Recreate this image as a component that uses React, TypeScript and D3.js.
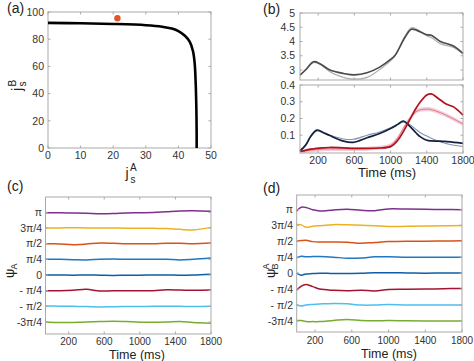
import React from "react";
import * as d3 from "d3";

const FONT = "'Liberation Sans', Arial, Helvetica, sans-serif";
const PI = Math.PI;
const AXIS = "#a9a9a9";
const TXT = "#333";

// ---- panel (a): frontier j_s^A vs j_s^B
const frontierA = [0, 10, 20, 30, 35, 38, 40, 42, 43.5, 44.5, 45, 45.3, 45.5, 45.6, 45.6];
const frontierB = [92, 91.7, 91.2, 90.3, 89.2, 87.8, 86, 82.5, 78, 71, 62, 48, 30, 10, 0];
const dotA = 21.3;
const dotB = 95.4;
const aTicksX = [0, 10, 20, 30, 40, 50];
const aTicksY = [0, 20, 40, 60, 80, 100];

// ---- panel (b) top
const bTopTimes = [0, 60, 150, 220, 330, 480, 600, 740, 880, 1000, 1050, 1160, 1230, 1290, 1400, 1450, 1550, 1690, 1800];
const bTopDark = [2.82, 3.0, 3.29, 3.22, 3.0, 2.88, 2.83, 2.9, 3.1, 3.37, 3.52, 4.15, 4.43, 4.39, 4.24, 4.22, 4.0, 3.85, 3.58];
const bTopLight = [2.82, 2.99, 3.26, 3.2, 2.94, 2.74, 2.68, 2.74, 3.02, 3.32, 3.49, 4.2, 4.48, 4.43, 4.2, 4.14, 3.92, 3.8, 3.56];
const bTopTicks = [3, 3.5, 4, 4.5, 5];

// ---- panel (b) bottom
const bBotTimes = [0, 60, 120, 185, 250, 330, 480, 590, 740, 880, 1000, 1080, 1140, 1210, 1280, 1330, 1400, 1450, 1550, 1620, 1700, 1800];
const bNavy = [0.006, 0.04, 0.095, 0.131, 0.118, 0.098, 0.065, 0.058, 0.085, 0.11, 0.14, 0.165, 0.185, 0.155, 0.115, 0.09, 0.07, 0.066, 0.065, 0.062, 0.058, 0.052];
const bNavyLight = [0.006, 0.035, 0.09, 0.126, 0.115, 0.1, 0.078, 0.076, 0.1, 0.12, 0.145, 0.165, 0.178, 0.165, 0.135, 0.115, 0.095, 0.082, 0.06, 0.05, 0.04, 0.033];
const bRed = [0.003, 0.01, 0.017, 0.022, 0.025, 0.027, 0.025, 0.022, 0.022, 0.024, 0.032, 0.07, 0.12, 0.19, 0.26, 0.3, 0.34, 0.347, 0.31, 0.285, 0.268, 0.22];
const bPink = [0.002, 0.006, 0.01, 0.014, 0.017, 0.018, 0.018, 0.018, 0.02, 0.025, 0.04, 0.085, 0.14, 0.2, 0.24, 0.252, 0.256, 0.253, 0.235, 0.218, 0.196, 0.168];
const bBotTicks = [0.1, 0.2, 0.3, 0.4];
const timeTicks = [200, 600, 1000, 1400, 1800];

// ---- panels (c) and (d): phases
const psiLevels = [PI, (3 * PI) / 4, PI / 2, PI / 4, 0, -PI / 4, -PI / 2, (-3 * PI) / 4];
const psiTickLabels = ["π", "3π/4", "π/2", "π/4", "0", "- π/4", "- π/2", "-3π/4"];
const psiColors = ["#7e2f8e", "#edb120", "#d95319", "#1f78c1", "#0c5da5", "#a2142f", "#4dbeee", "#77ac30"];

const cTimes = [-60, 100, 250, 400, 550, 700, 850, 1000, 1150, 1300, 1450, 1600, 1800];
const cDev = [
  [-0.02, -0.025, -0.04, -0.05, -0.07, -0.06, -0.03, -0.02, -0.01, 0.03, 0.07, 0.08, 0.05],
  [0, 0, 0.01, 0, 0, 0, -0.01, -0.01, -0.02, -0.03, -0.07, -0.1, 0.03],
  [0, -0.02, -0.05, -0.02, 0.03, 0.02, 0, 0, 0, 0.02, 0.02, 0, 0.03],
  [0, 0, -0.02, -0.03, 0, 0.01, 0, 0, 0, 0, -0.03, 0, 0.06],
  [0, 0, -0.01, 0, -0.01, -0.02, -0.01, -0.01, 0, 0, -0.01, 0, 0.04],
  [0, 0, 0.02, 0.07, -0.02, 0, 0, 0, 0, 0.04, 0.03, 0.02, 0.03],
  [0.02, 0.01, 0, -0.01, -0.03, -0.02, -0.01, -0.01, 0, 0, 0, -0.01, 0],
  [0, -0.03, -0.02, 0, 0.02, 0.04, 0.02, -0.01, -0.01, 0, 0.03, -0.02, -0.06],
];

const dTimes = [0, 50, 100, 175, 250, 400, 550, 700, 850, 1000, 1200, 1400, 1600, 1800];
const dDev = [
  [-0.08, 0.1, 0.09, -0.02, -0.08, -0.03, 0, -0.05, -0.07, 0.02, 0.01, 0, -0.01, -0.02],
  [0.03, 0.02, -0.1, -0.05, -0.02, 0.03, 0.02, 0, -0.03, -0.06, -0.05, -0.04, -0.03, -0.01],
  [0, 0.03, 0.05, -0.02, -0.04, -0.04, -0.05, -0.1, -0.06, -0.02, 0, 0, 0.01, 0.02],
  [-0.03, 0.05, 0.02, 0.03, 0.03, 0, -0.05, -0.04, 0.02, 0.02, 0, 0, 0, 0],
  [0, -0.1, -0.04, -0.02, 0, -0.02, -0.02, -0.01, 0.02, 0.02, 0.01, 0, 0.01, 0.01],
  [-0.05, 0.15, 0.23, 0.12, 0, -0.06, -0.08, -0.06, -0.09, -0.02, -0.01, 0, 0.02, 0.03],
  [0, -0.05, 0, 0.03, 0.05, 0.08, 0.06, 0, 0, 0.03, 0, 0, 0, 0],
  [0.02, 0.02, -0.03, -0.03, -0.03, 0.03, 0.08, 0.03, 0.01, 0.02, 0.01, 0, 0, 0],
];

type Lin = d3.ScaleLinear<number, number>;

const path = (xs: number[], ys: number[], x: Lin, y: Lin) =>
  d3
    .line<number>()
    .x((_, i) => x(xs[i]))
    .y((d) => y(d))
    .curve(d3.curveCatmullRom.alpha(0.5))(ys) || "";

const band = (xs: number[], ys: number[], half: number, x: Lin, y: Lin) =>
  d3
    .area<number>()
    .x((_, i) => x(xs[i]))
    .y0((d) => y(d - half))
    .y1((d) => y(d + half))
    .curve(d3.curveCatmullRom.alpha(0.5))(ys) || "";

// MATLAB-like boxed axes with inward ticks
const Box = ({ x0, x1, y0, y1, xt, yt }: { x0: number; x1: number; y0: number; y1: number; xt: number[]; yt: number[] }) => (
  <g stroke={AXIS} strokeWidth={1} fill="none">
    <rect x={x0} y={y0} width={x1 - x0} height={y1 - y0} />
    {xt.map((px, i) => (
      <g key={"x" + i}>
        <line x1={px} x2={px} y1={y1} y2={y1 - 2.5} />
        <line x1={px} x2={px} y1={y0} y2={y0 + 2.5} />
      </g>
    ))}
    {yt.map((py, i) => (
      <g key={"y" + i}>
        <line x1={x0} x2={x0 + 2.5} y1={py} y2={py} />
        <line x1={x1} x2={x1 - 2.5} y1={py} y2={py} />
      </g>
    ))}
  </g>
);

const tick = { fontFamily: FONT, fontSize: 10.5, fill: TXT };

export default function App() {
  // (a)
  const ax = d3.scaleLinear().domain([0, 50]).range([48, 211]);
  const ay = d3.scaleLinear().domain([0, 100]).range([148, 12]);
  const frontier = d3
    .line<number>()
    .x((d) => ax(d))
    .y((_, i) => ay(frontierB[i]))
    .curve(d3.curveCatmullRom.alpha(0.5))(frontierA) || "";

  // (b)
  const bx = d3.scaleLinear().domain([0, 1800]).range([300, 463]);
  const btY = d3.scaleLinear().domain([3, 5]).range([70, 13]);
  const bbY = d3.scaleLinear().domain([0, 0.4]).range([152, 85]);

  // (c), (d)
  const cx = d3.scaleLinear().domain([-60, 1800]).range([45.5, 211]);
  const cy = d3.scaleLinear().domain([(-3 * PI) / 4, PI]).range([322, 212.3]);
  const dx = d3.scaleLinear().domain([0, 1800]).range([296.7, 462]);
  const dy = d3.scaleLinear().domain([(-3 * PI) / 4, PI]).range([321, 209.3]);

  return (
    <svg width={474} height={361} style={{ position: "absolute", left: 0, top: 0, background: "#fff" }}>
      {/* ---------- (a) ---------- */}
      <text x={7} y={13} fontFamily={FONT} fontSize={14} fill="#222">(a)</text>
      <Box x0={48} x1={211} y0={12} y1={148} xt={aTicksX.map(ax)} yt={aTicksY.map(ay)} />
      <path d={frontier} fill="none" stroke="#000" strokeWidth={2.6} />
      <circle cx={ax(dotA)} cy={ay(dotB)} r={3.2} fill="#e0542a" />
      {aTicksX.map((t) => (
        <text key={t} x={ax(t)} y={159} textAnchor="middle" {...tick}>{t}</text>
      ))}
      {aTicksY.map((t) => (
        <text key={t} x={44} y={ay(t) + 3.7} textAnchor="end" {...tick}>{t}</text>
      ))}
      <g fontFamily={FONT} fill="#222">
        <text x={125.5} y={178} fontSize={14}>j</text>
        <text x={130} y={171} fontSize={10}>A</text>
        <text x={130.5} y={183} fontSize={10}>s</text>
      </g>
      <g transform="translate(22,91) rotate(-90)" fontFamily={FONT} fill="#222">
        <text x={0} y={0} fontSize={14}>j</text>
        <text x={4.5} y={-6} fontSize={10}>B</text>
        <text x={4.5} y={3.5} fontSize={10}>s</text>
      </g>

      {/* ---------- (b) ---------- */}
      <text x={263} y={14} fontFamily={FONT} fontSize={14} fill="#222">(b)</text>
      <path d={band(bTopTimes, bTopLight, 0.035, bx, btY)} fill="#e4e4e4" />
      <path d={path(bTopTimes, bTopLight, bx, btY)} fill="none" stroke="#a8a8a8" strokeWidth={1} />
      <path d={path(bTopTimes, bTopDark, bx, btY)} fill="none" stroke="#4a4a4a" strokeWidth={1.6} />
      <Box x0={300} x1={463} y0={13} y1={80} xt={timeTicks.map(bx)} yt={bTopTicks.map(btY)} />
      {bTopTicks.map((t) => (
        <text key={t} x={295} y={btY(t) + 3.7} textAnchor="end" {...tick}>{t}</text>
      ))}

      <path d={band(bBotTimes, bPink, 0.012, bx, bbY)} fill="#f7cdd7" />
      <path d={path(bBotTimes, bPink, bx, bbY)} fill="none" stroke="#e07a92" strokeWidth={1} />
      <path d={path(bBotTimes, bNavyLight, bx, bbY)} fill="none" stroke="#8492b0" strokeWidth={1.1} />
      <path d={path(bBotTimes, bNavy, bx, bbY)} fill="none" stroke="#14213d" strokeWidth={1.7} />
      <path d={path(bBotTimes, bRed, bx, bbY)} fill="none" stroke="#b0121f" strokeWidth={1.7} />
      <Box x0={300} x1={463} y0={85} y1={153} xt={timeTicks.map(bx)} yt={bBotTicks.map(bbY)} />
      {bBotTicks.map((t) => (
        <text key={t} x={295} y={bbY(t) + 3.7} textAnchor="end" {...tick}>{t}</text>
      ))}
      {timeTicks.map((t) => (
        <text key={t} x={bx(t)} y={164} textAnchor="middle" {...tick}>{t}</text>
      ))}
      <text x={387} y={177} textAnchor="middle" fontFamily={FONT} fontSize={13} fill="#222">Time (ms)</text>

      {/* ---------- (c) ---------- */}
      <text x={7} y={191} fontFamily={FONT} fontSize={14} fill="#222">(c)</text>
      {cDev.map((dev, k) => (
        <path
          key={k}
          d={path(cTimes, dev.map((v) => v + psiLevels[k]), cx, cy)}
          fill="none"
          stroke={psiColors[k]}
          strokeWidth={1.5}
        />
      ))}
      <Box x0={45.5} x1={211} y0={197} y1={334} xt={timeTicks.map(cx)} yt={psiLevels.map(cy)} />
      {psiLevels.map((v, k) => (
        <text key={k} x={42} y={cy(v) + 3.7} textAnchor="end" {...tick}>{psiTickLabels[k]}</text>
      ))}
      {timeTicks.map((t) => (
        <text key={t} x={cx(t)} y={345} textAnchor="middle" {...tick} fontSize={10}>{t}</text>
      ))}
      <text x={137} y={358.5} textAnchor="middle" fontFamily={FONT} fontSize={12.5} fill="#222">Time (ms)</text>
      <g transform="translate(14,278) rotate(-90)" fontFamily={FONT} fill="#222">
        <text x={0} y={0} fontSize={13}>ψ</text>
        <text x={8.5} y={3} fontSize={9}>A</text>
      </g>

      {/* ---------- (d) ---------- */}
      <text x={263} y={193} fontFamily={FONT} fontSize={14} fill="#222">(d)</text>
      {dDev.map((dev, k) => (
        <path
          key={k}
          d={path(dTimes, dev.map((v) => v + psiLevels[k]), dx, dy)}
          fill="none"
          stroke={psiColors[k]}
          strokeWidth={1.5}
        />
      ))}
      <Box x0={296.7} x1={462} y0={195} y1={332} xt={timeTicks.map(dx)} yt={psiLevels.map(dy)} />
      {psiLevels.map((v, k) => (
        <text key={k} x={293} y={dy(v) + 3.7} textAnchor="end" {...tick}>{psiTickLabels[k]}</text>
      ))}
      {timeTicks.map((t) => (
        <text key={t} x={dx(t)} y={344} textAnchor="middle" {...tick} fontSize={10}>{t}</text>
      ))}
      <text x={389} y={358} textAnchor="middle" fontFamily={FONT} fontSize={12.5} fill="#222">Time (ms)</text>
      <g transform="translate(275,278) rotate(-90)" fontFamily={FONT} fill="#222">
        <text x={0} y={0} fontSize={13}>ψ</text>
        <text x={8.5} y={-6} fontSize={9}>A</text>
        <text x={8.5} y={3} fontSize={9}>B</text>
      </g>
    </svg>
  );
}
